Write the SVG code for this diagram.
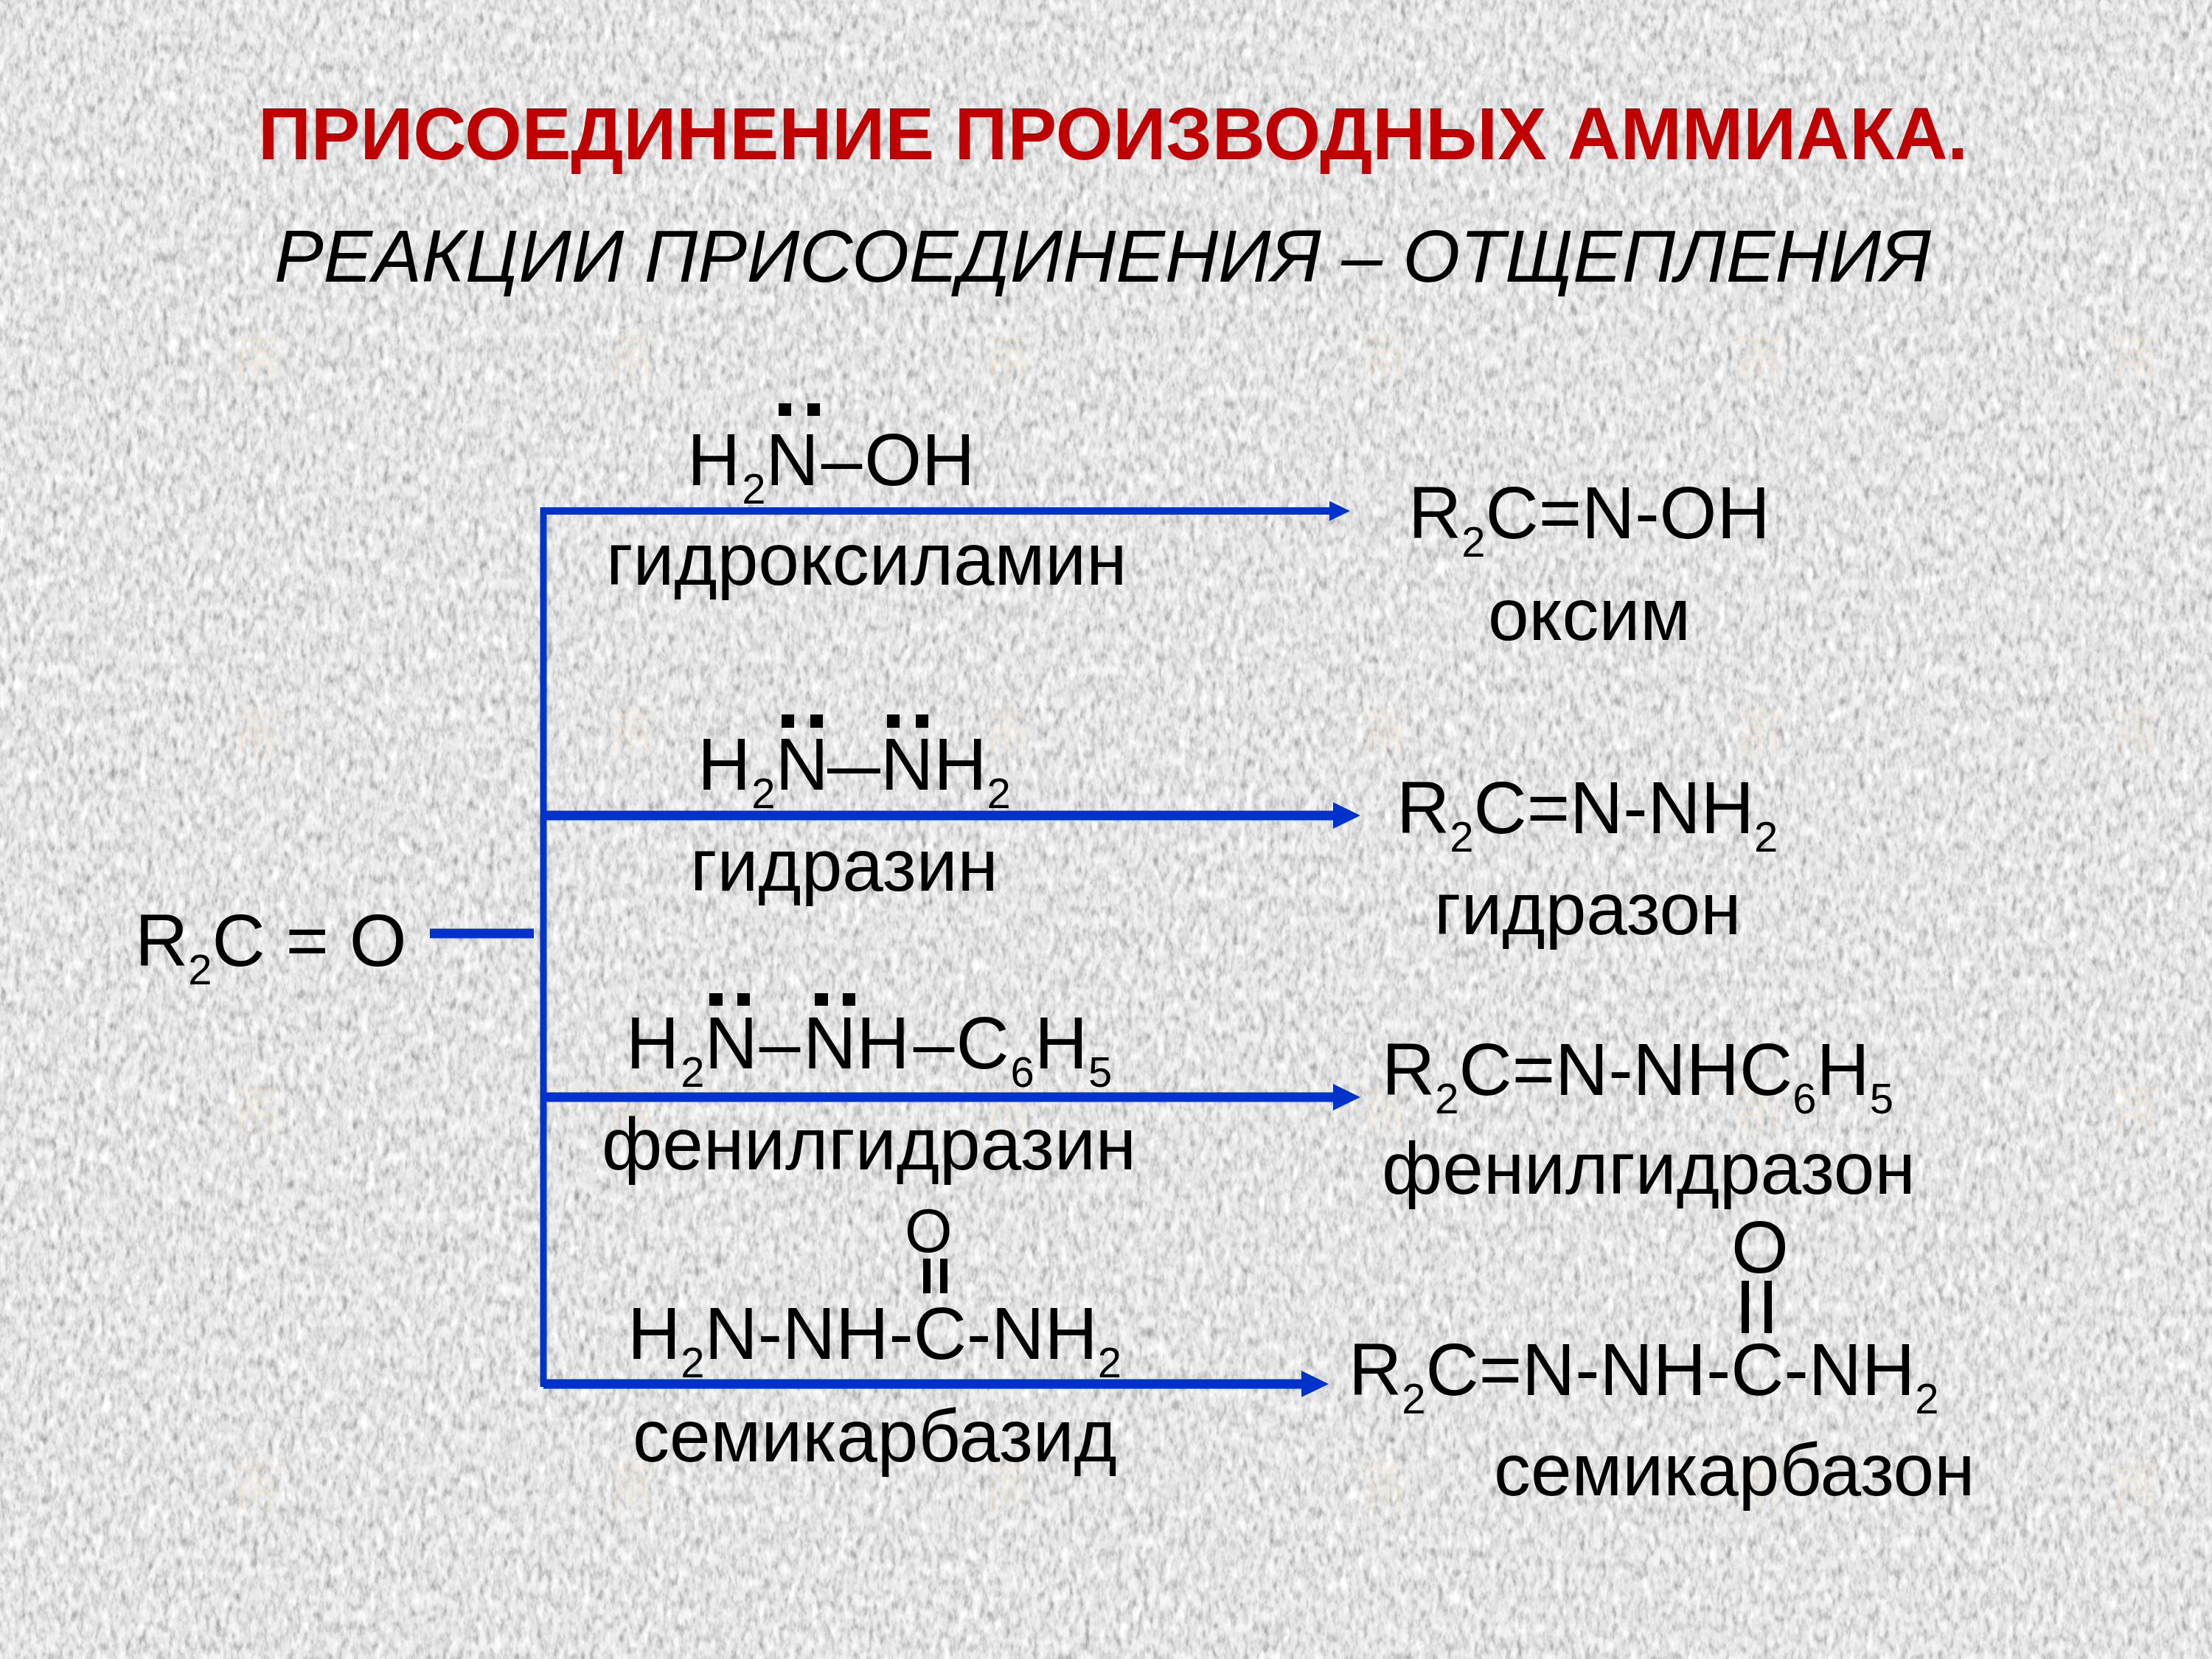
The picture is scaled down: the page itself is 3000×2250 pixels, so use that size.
<svg xmlns="http://www.w3.org/2000/svg" width="3000" height="2250" viewBox="0 0 3000 2250">
<style>
text{font-family:"Liberation Sans",Arial,sans-serif;fill:#000;font-size:100px}
.t{font-weight:bold;fill:#c00000;letter-spacing:-.05px}
.i{font-style:italic;letter-spacing:-.1px}
.o{font-size:83px}
.s{font-size:58px}
.b{fill:none;stroke:#0033cc;stroke-linecap:butt}
.d{fill:#000}
</style>
<defs>
<filter id="n" x="0" y="0" width="100%" height="100%" color-interpolation-filters="sRGB">
<feTurbulence type="fractalNoise" baseFrequency="0.14 0.07" numOctaves="3" seed="7"/>
<feColorMatrix type="matrix" values="0 0 0 0 0.55 0 0 0 0 0.55 0 0 0 0 0.55 1.1 1.1 0 0 -0.95"/>
</filter>
<filter id="n2" x="0" y="0" width="100%" height="100%" color-interpolation-filters="sRGB">
<feTurbulence type="fractalNoise" baseFrequency="0.1 0.05" numOctaves="3" seed="21"/>
<feColorMatrix type="matrix" values="0 0 0 0 1 0 0 0 0 1 0 0 0 0 1 1.4 1.4 0 0 -1.1"/>
</filter>
<pattern id="w" width="510" height="510" patternUnits="userSpaceOnUse" x="82" y="220">
<path d="M235 240h60M265 228v62M245 256h40v40M245 272h40M245 256v40" fill="none" stroke="#f6e6d2" stroke-width="7" opacity=".3"/>
</pattern>
<marker id="a" markerUnits="userSpaceOnUse" markerWidth="37" markerHeight="36" refX="0" refY="18" orient="auto"><path d="M0 0L37 18L0 36Z" fill="#0033cc"/></marker>
<marker id="a2" markerUnits="userSpaceOnUse" markerWidth="28" markerHeight="27" refX="0" refY="13.5" orient="auto"><path d="M0 0L28 13.5L0 27Z" fill="#0033cc"/></marker>
</defs>
<g id="background">
<rect width="3000" height="2250" fill="#e4e4e4"/>
<rect width="3000" height="2250" filter="url(#n)"/>
<rect width="3000" height="2250" filter="url(#n2)"/>
<rect width="3000" height="2250" fill="url(#w)"/>
</g>
<g id="title">
<text class="t" x="350" y="216">ПРИСОЕДИНЕНИЕ ПРОИЗВОДНЫХ АММИАКА.</text>
<text class="i" x="372" y="382">РЕАКЦИИ ПРИСОЕДИНЕНИЯ – ОТЩЕПЛЕНИЯ</text>
</g>
<g id="connectors">
<path class="b" stroke-width="9" d="M737 688V1881"/>
<path class="b" stroke-width="13" d="M583 1266H724"/>
<path class="b" stroke-width="10" d="M733 693H1803" marker-end="url(#a2)"/>
<path class="b" stroke-width="13" d="M737 1106H1808" marker-end="url(#a)"/>
<path class="b" stroke-width="13" d="M737 1488H1808" marker-end="url(#a)"/>
<path class="b" stroke-width="13" d="M737 1877H1765" marker-end="url(#a)"/>
</g>
<g id="start"><text x="183" y="1310">R<tspan class="s" dy="25">2</tspan><tspan dy="-25">C = O</tspan></text></g>
<g id="hydroxylamine">
<text x="932" y="658">H<tspan class="s" dy="25" dx="2">2</tspan><tspan dy="-25">N</tspan><tspan dx="3">–</tspan><tspan dx="3">OH</tspan></text>
<rect class="d" x="1056" y="547" width="17" height="17"/><rect class="d" x="1095" y="547" width="17" height="17"/>
<text x="822" y="793">гидроксиламин</text>
</g>
<g id="oxime">
<text x="1910" y="730">R<tspan class="s" dy="25">2</tspan><tspan dy="-25">C=N-OH</tspan></text>
<text x="2018" y="868">оксим</text>
</g>
<g id="hydrazine">
<text x="946" y="1071">H<tspan class="s" dy="25" dx="1">2</tspan><tspan dy="-25">N</tspan></text>
<text transform="translate(1122 1071) scale(1.295 1)">–</text>
<text x="1194" y="1071">NH<tspan class="s" dy="25">2</tspan></text>
<rect class="d" x="1060" y="969" width="17" height="18"/><rect class="d" x="1099" y="969" width="17" height="18"/>
<rect class="d" x="1203" y="969" width="17" height="18"/><rect class="d" x="1242" y="969" width="17" height="18"/>
<text x="936" y="1208">гидразин</text>
</g>
<g id="hydrazone">
<text x="1894" y="1130">R<tspan class="s" dy="25">2</tspan><tspan dy="-25">C=N-NH</tspan><tspan class="s" dy="25">2</tspan></text>
<text x="1945" y="1267">гидразон</text>
</g>
<g id="phenylhydrazine">
<text x="849" y="1449">H<tspan class="s" dy="25" dx="2">2</tspan><tspan dy="-25">N</tspan><tspan dx="2">–</tspan><tspan dx="4">NH</tspan><tspan dx="5">–</tspan><tspan dx="2">C</tspan><tspan class="s" dy="25" dx="2">6</tspan><tspan dy="-25">H</tspan><tspan class="s" dy="25" dx="1">5</tspan></text>
<rect class="d" x="962" y="1347" width="18" height="17"/><rect class="d" x="1000" y="1347" width="17" height="17"/>
<rect class="d" x="1105" y="1347" width="18" height="17"/><rect class="d" x="1143" y="1347" width="17" height="17"/>
<text x="816" y="1586">фенилгидразин</text>
</g>
<g id="phenylhydrazone">
<text x="1874" y="1485">R<tspan class="s" dy="25">2</tspan><tspan dy="-25">C=N-NHC</tspan><tspan class="s" dy="25">6</tspan><tspan dy="-25">H</tspan><tspan class="s" dy="25">5</tspan></text>
<text x="1874" y="1619">фенилгидразон</text>
</g>
<g id="semicarbazide">
<text class="o" x="1227" y="1698">O</text>
<rect class="d" x="1252" y="1707" width="10" height="47"/><rect class="d" x="1275" y="1707" width="10" height="47"/>
<text x="851" y="1843">H<tspan class="s" dy="25">2</tspan><tspan dy="-25">N-NH-C-NH</tspan><tspan class="s" dy="25">2</tspan></text>
<text x="858" y="1982">семикарбазид</text>
</g>
<g id="semicarbazone">
<text x="2348" y="1726">O</text>
<rect class="d" x="2362" y="1737" width="10" height="71"/><rect class="d" x="2393" y="1737" width="10" height="71"/>
<text x="1829" y="1892">R<tspan class="s" dy="25">2</tspan><tspan dy="-25">C=N-NH-C-NH</tspan><tspan class="s" dy="25">2</tspan></text>
<text x="2026" y="2028">семикарбазон</text>
</g>
</svg>
